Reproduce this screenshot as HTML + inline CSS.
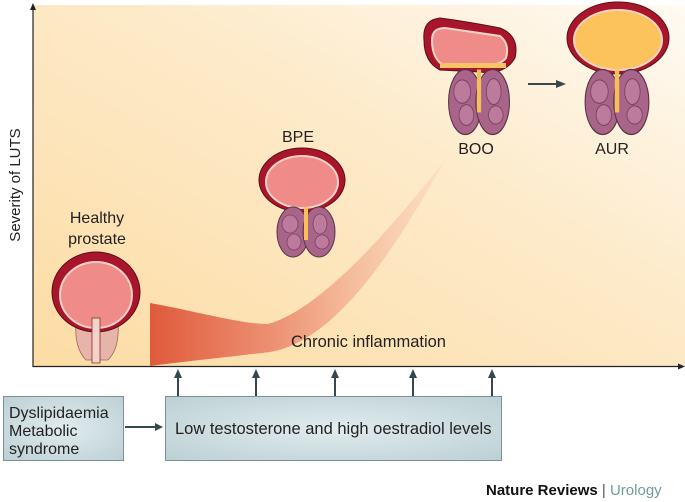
<!DOCTYPE html>
<html><head><meta charset="utf-8"><style>
html,body{margin:0;padding:0;background:#fff;}
svg{display:block;font-family:"Liberation Sans",sans-serif;}
</style></head><body>
<svg width="685" height="502" viewBox="0 0 685 502">
<defs>
<linearGradient id="bg" x1="0" y1="1" x2="1" y2="0">
<stop offset="0" stop-color="#fddca4"/><stop offset="0.6" stop-color="#fdebcb"/><stop offset="1" stop-color="#fffaf3"/>
</linearGradient>
<linearGradient id="inf" gradientUnits="userSpaceOnUse" x1="150" y1="0" x2="445" y2="0">
<stop offset="0" stop-color="#e05a3c"/><stop offset="0.45" stop-color="#ee9577"/><stop offset="1" stop-color="#f6c7ad" stop-opacity="0.3"/>
</linearGradient>
<radialGradient id="box" cx="0.5" cy="0.5" r="0.7"><stop offset="0" stop-color="#e1ecee"/><stop offset="1" stop-color="#bcd0d4"/></radialGradient>
<g id="pros">
<ellipse cx="-13" cy="0" rx="16" ry="25" fill="#a86489" stroke="#5a3445" stroke-width="1"/>
<ellipse cx="13" cy="0" rx="16" ry="25" fill="#a86489" stroke="#5a3445" stroke-width="1"/>
<ellipse cx="-16" cy="-8" rx="8" ry="9" fill="#bc7a9c" stroke="#7a4360" stroke-width="0.8"/>
<ellipse cx="-12" cy="10" rx="7" ry="8" fill="#bc7a9c" stroke="#7a4360" stroke-width="0.8"/>
<ellipse cx="14" cy="-8" rx="7" ry="10" fill="#bc7a9c" stroke="#7a4360" stroke-width="0.8"/>
<ellipse cx="16" cy="10" rx="7" ry="7" fill="#bc7a9c" stroke="#7a4360" stroke-width="0.8"/>
<rect x="-2" y="-25" width="4" height="33" fill="#f5c05a"/>
</g>
</defs>
<rect x="33" y="5" width="652" height="361" fill="url(#bg)"/>
<line x1="33" y1="367" x2="33" y2="8" stroke="#222" stroke-width="1.2"/>
<polygon points="30,10 36,10 33,3" fill="#222"/>
<line x1="33" y1="366.5" x2="680" y2="366.5" stroke="#222" stroke-width="1.2"/>
<polygon points="678,363.5 678,369.5 685,366.5" fill="#222"/>
<text x="20" y="185" font-size="15" fill="#222" text-anchor="middle" transform="rotate(-90 20 185)">Severity of LUTS</text>
<path d="M150,303 C200,312 240,324 268,324 C320,310 390,230 445,160 C400,240 340,340 270,352 C220,358 180,362 150,366 Z" fill="url(#inf)"/>
<text x="291" y="347" font-size="16.5" fill="#222">Chronic inflammation</text>
<text x="97" y="223" font-size="16" fill="#222" text-anchor="middle">Healthy</text>
<text x="97" y="244" font-size="16" fill="#222" text-anchor="middle">prostate</text>
<path d="M76,322 Q74,348 86,360 L108,360 Q120,348 118,322 Z" fill="#e6b4a8" stroke="#9a6a60" stroke-width="0.8"/>
<ellipse cx="96" cy="292" rx="44" ry="40" fill="#a9162b" stroke="#5a0e18"/>
<ellipse cx="96" cy="295" rx="36" ry="33" fill="#ef8c89" stroke="#f3d3c8" stroke-width="2"/>
<rect x="92" y="318" width="8" height="45" fill="#f3d3c8" stroke="#8a2a30" stroke-width="0.8"/>
<text x="298" y="142" font-size="16" fill="#222" text-anchor="middle">BPE</text>
<ellipse cx="302" cy="180" rx="43" ry="32" fill="#a9162b" stroke="#5a0e18"/>
<ellipse cx="302" cy="182" rx="36" ry="26" fill="#ef8c89" stroke="#f3d3c8" stroke-width="2"/>
<use href="#pros" transform="translate(306,232)"/>
<path d="M424,40 Q422,20 440,18 Q470,22 500,28 Q520,36 515,58 Q505,75 480,72 L440,70 Q424,62 424,40 Z" fill="#a9162b" stroke="#5a0e18"/>
<path d="M432,40 Q432,28 445,28 Q472,32 500,36 Q510,44 506,58 Q500,66 480,66 L445,66 Q432,60 432,40 Z" fill="#ef8c89" stroke="#f3d3c8" stroke-width="2"/>
<rect x="440" y="63" width="66" height="5" fill="#f8c466"/>
<use href="#pros" transform="translate(479,102) scale(1.05,1.3)"/>
<text x="476" y="154" font-size="16" fill="#222" text-anchor="middle">BOO</text>
<line x1="528" y1="84" x2="558" y2="84" stroke="#37474f" stroke-width="2"/>
<polygon points="556,80 566,84 556,88" fill="#37474f"/>
<ellipse cx="618" cy="38" rx="51" ry="36" fill="#a9162b" stroke="#5a0e18"/>
<ellipse cx="618" cy="40" rx="44" ry="30" fill="#fcc35c" stroke="#f3d3c8" stroke-width="2"/>
<use href="#pros" transform="translate(617,102) scale(1.1,1.3)"/>
<text x="612" y="154" font-size="16" fill="#222" text-anchor="middle">AUR</text>
<g stroke="#37474f" stroke-width="2">
<line x1="178" y1="396" x2="178" y2="376"/><line x1="256" y1="396" x2="256" y2="376"/><line x1="335" y1="396" x2="335" y2="376"/><line x1="413" y1="396" x2="413" y2="376"/><line x1="492" y1="396" x2="492" y2="376"/>
</g>
<g fill="#37474f">
<polygon points="174,378 182,378 178,369"/><polygon points="252,378 260,378 256,369"/><polygon points="331,378 339,378 335,369"/><polygon points="409,378 417,378 413,369"/><polygon points="488,378 496,378 492,369"/>
</g>
<rect x="3.5" y="396.5" width="120" height="64" fill="url(#box)" stroke="#7d9297"/>
<text x="9" y="418" font-size="16" fill="#222">Dyslipidaemia</text>
<text x="9" y="436" font-size="16" fill="#222">Metabolic</text>
<text x="9" y="454" font-size="16" fill="#222">syndrome</text>
<line x1="125" y1="427" x2="156" y2="427" stroke="#37474f" stroke-width="2"/>
<polygon points="155,423 163,427 155,431" fill="#37474f"/>
<rect x="165.5" y="396.5" width="336" height="64" fill="url(#box)" stroke="#7d9297"/>
<text x="175" y="434" font-size="16.5" fill="#222">Low testosterone and high oestradiol levels</text>
<text x="486" y="495" font-size="15" font-weight="bold" fill="#111">Nature Reviews <tspan font-weight="normal" fill="#555">|</tspan> <tspan font-weight="normal" fill="#6f9a9a">Urology</tspan></text>
</svg>
</body></html>
